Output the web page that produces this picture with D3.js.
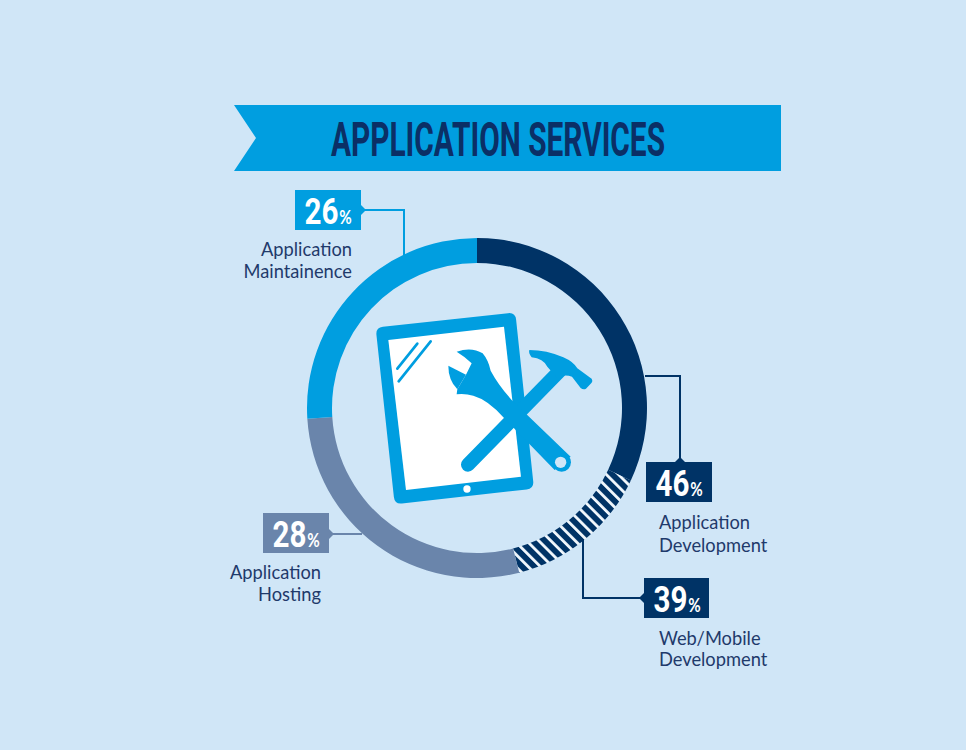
<!DOCTYPE html>
<html><head><meta charset="utf-8">
<script src="https://cdnjs.cloudflare.com/ajax/libs/d3/7.8.5/d3.min.js"></script>
<style>html,body{margin:0;padding:0;background:#d0e6f7}svg{display:block}</style>
</head><body><svg id="c" width="966" height="750"></svg>
<script>
const title = "APPLICATION SERVICES";
const categories = ["Application Development","Web/Mobile Development","Application Hosting","Application Maintainence"];
const labelLines = [["Application","Development"],["Web/Mobile","Development"],["Application","Hosting"],["Application","Maintainence"]];
const percentLabels = [46,39,28,26];
const ringShares = [32,14,28,26];
const segmentColors = ["#003366","url(#stripes)","#6a85ab","#009ee0"];
const boxColors = ["#003366","#003366","#6a85ab","#009ee0"];

const BG="#d0e6f7", BLUE="#009ee0", NAVY="#003366", TXT="#1f3a6b";
const svg=d3.select("#c");
svg.append("rect").attr("width",966).attr("height",750).attr("fill",BG);
const defs=svg.append("defs");
const P=8.6;
const pat=defs.append("pattern").attr("id","stripes").attr("patternUnits","userSpaceOnUse")
  .attr("width",P).attr("height",P).attr("patternTransform","rotate(-45)");
pat.append("rect").attr("width",P).attr("height",P).attr("fill",NAVY);
pat.append("rect").attr("width",2.8).attr("height",P).attr("fill","#f2f8fd");

// ribbon
svg.append("path").attr("d",d3.line()([[234,105],[781,105],[781,171],[234,171],[256,138]])+"Z").attr("fill",BLUE);
svg.append("text").text(title).attr("x",331).attr("y",156).attr("textLength",334).attr("lengthAdjust","spacingAndGlyphs")
  .attr("font-family","Roboto").attr("font-weight",700).attr("font-size",48).attr("fill","#0b2f66");

// ring
const cx=477,cy=408;
const pie=d3.pie().sort(null)(ringShares);
const arc=d3.arc().innerRadius(145).outerRadius(170);
svg.append("g").attr("transform",`translate(${cx},${cy})`).selectAll("path").data(pie).join("path")
  .attr("d",arc).attr("fill",(d,i)=>segmentColors[i]);

// icon (drawn in a 3x local space)
const ic=svg.append("g").attr("transform","translate(360,300) scale(0.3333)");
const rr=(pts,r)=>{
  const n=pts.length;let s="";
  pts.forEach((p,i)=>{const a=pts[(i+n-1)%n],b=pts[(i+1)%n];
    const u=(q)=>{const dx=q[0]-p[0],dy=q[1]-p[1],l=Math.hypot(dx,dy);return [p[0]+dx/l*r,p[1]+dy/l*r]};
    const s1=u(a),s2=u(b);
    s+=(i?"L":"M")+s1[0]+","+s1[1]+"Q"+p[0]+","+p[1]+" "+s2[0]+","+s2[1];});
  return s+"Z";};
ic.append("path").attr("d",rr([[47,83],[466,37],[522,566],[104,613]],22)).attr("fill",BLUE);
ic.append("path").attr("d",d3.line()([[85,120],[432,80],[483,530],[138,570]])+"Z").attr("fill","#fff");
ic.append("circle").attr("cx",321).attr("cy",567).attr("r",11).attr("fill","#fff");
ic.append("path").attr("d","M112,206L172,131M116,244L212,124").attr("stroke",BLUE).attr("stroke-width",8).attr("stroke-linecap","round").attr("fill","none");
// hammer
ic.append("path").attr("d","M324,494L600,212").attr("stroke",BLUE).attr("stroke-width",42).attr("stroke-linecap","round").attr("fill","none");
ic.append("path").attr("d","M508,150Q560,150 610,172Q640,185 652,205L695,236Q699,242 695,248L678,266Q670,270 662,264L636,230Q615,222 590,232L562,200Q550,176 515,172Q505,160 508,150Z").attr("fill",BLUE);
// wrench
ic.append("path").attr("d","M290,155Q335,140 368,160Q385,180 392,212Q415,255 455,300L632,470L584,510L430,352Q385,300 340,287Q315,280 290,283L292,268L318,224L335,190Q315,170 290,155Z").attr("fill",BLUE);
ic.append("path").attr("d","M265,197L318,224L292,268Q265,240 265,197Z").attr("fill",BLUE);
ic.append("circle").attr("cx",605).attr("cy",487).attr("r",28).attr("fill",BLUE);
ic.append("circle").attr("cx",602).attr("cy",487).attr("r",17).attr("fill",BG);

// callouts
const callouts=[
 {box:[646,462,66,40],line:[[645,376],[680,376],[680,462]],nx:680,ny:462,dir:"up",tx:659,ty:[528,551],anchor:"start"},
 {box:[644,578,65,40],line:[[583,540],[583,598],[644,598]],nx:644,ny:598,dir:"left",tx:659,ty:[644,665],anchor:"start"},
 {box:[263,513,66,40],line:[[329,534],[362,534]],nx:329,ny:534,dir:"right",tx:321,ty:[578,600],anchor:"end"},
 {box:[295,190,66,40],line:[[361,210],[404,210],[404,255]],nx:361,ny:210,dir:"right",tx:352,ty:[255,277],anchor:"end"}
];
callouts.forEach((c,i)=>{
  const col=boxColors[i],g=svg.append("g");
  g.append("path").attr("d",d3.line()(c.line)).attr("fill","none").attr("stroke",col).attr("stroke-width",2);
  g.append("rect").attr("x",c.box[0]).attr("y",c.box[1]).attr("width",c.box[2]).attr("height",c.box[3]).attr("fill",col);
  const n=5,{nx,ny,dir}=c;
  const tri=dir==="up"?[[nx-n,ny],[nx+n,ny],[nx,ny-n]]:dir==="left"?[[nx,ny-n],[nx,ny+n],[nx-n,ny]]:[[nx,ny-n],[nx,ny+n],[nx+n,ny]];
  g.append("path").attr("d",d3.line()(tri)+"Z").attr("fill",col);
  const mx=c.box[0]+33, by=c.box[1]+34;
  const t=g.append("text").attr("transform",`translate(${mx},${by}) scale(0.8,1)`).attr("text-anchor","middle").attr("fill","#fff");
  t.append("tspan").text(percentLabels[i]).attr("font-family","Roboto").attr("font-weight",700).attr("font-size",37);
  t.append("tspan").text("%").attr("font-family","Lato").attr("font-weight",700).attr("font-size",19).attr("dx",1);
  labelLines[i].forEach((s,j)=>g.append("text").text(s).attr("x",c.tx).attr("y",c.ty[j]+1).attr("text-anchor",c.anchor)
    .attr("font-family","Lato").attr("font-size",18.3).attr("fill",TXT));
});
</script></body></html>
